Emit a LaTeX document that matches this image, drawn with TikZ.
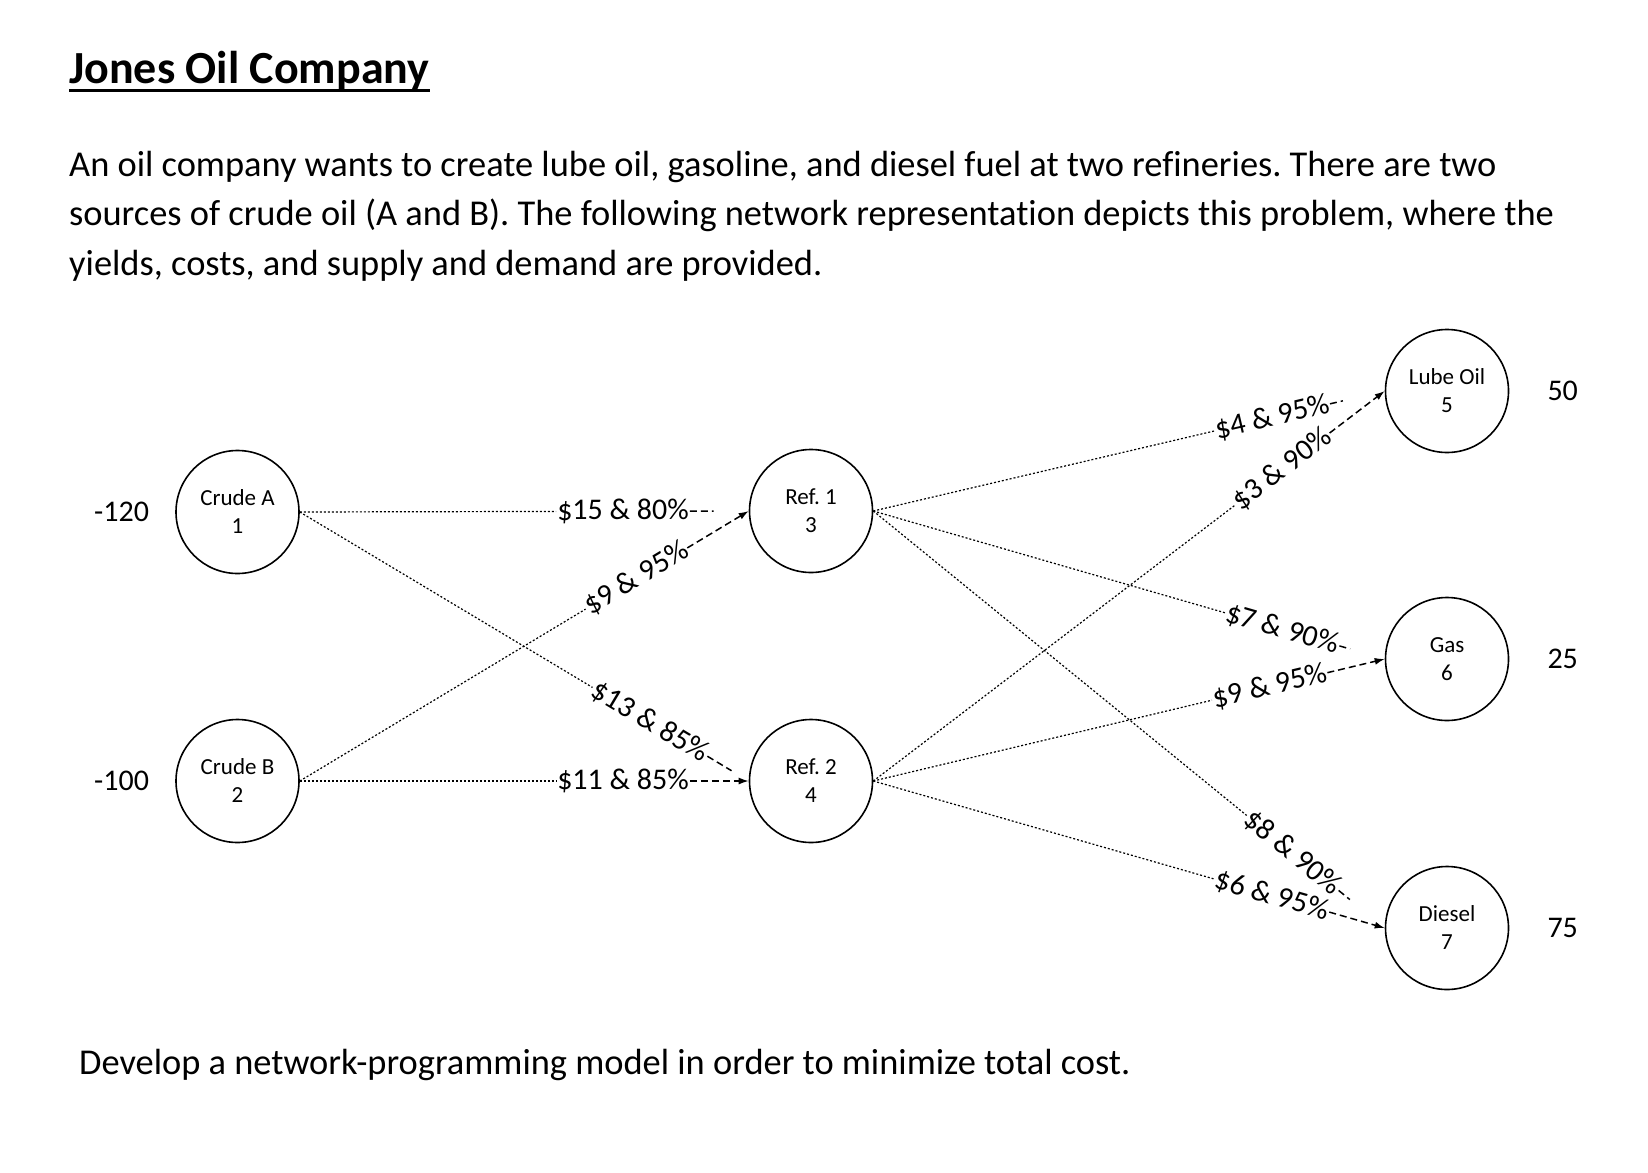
\documentclass[tikz,border=0pt]{standalone}
\usepackage{fontspec}
\setmainfont{Carlito}[Ligatures=NoCommon]
\frenchspacing
\usetikzlibrary{arrows.meta,positioning}

\begin{document}
\begin{tikzpicture}[x=1pt,y=-1pt,
        stage/.style={draw,circle,line width=1.6pt,minimum size=123pt,inner sep=0pt,align=center,font=\fontsize{23}{28}\selectfont},
        num/.style={inner sep=0pt,font=\fontsize{30}{36}\selectfont},
        txt/.style={anchor=base west,inner sep=0pt,font=\fontsize{36.4}{44}\selectfont},
        lbl/.style={sloped,inner sep=1pt,font=\fontsize{30}{36}\selectfont},
        dotline/.style={line width=1.2pt,dash pattern=on 2pt off 2pt},
        dashline/.style={line width=1.5pt,dash pattern=on 7pt off 4pt},
        arrowed/.style={-{Latex[length=10pt,width=7pt]}},
        stub/.style={shorten >=#1}]
        \useasboundingbox (0,0) rectangle (1648,1172);
        % text
        \node[txt,font=\fontsize{46}{54}\selectfont\bfseries] (title) at (69,83) {Jones Oil Company};
        \draw[line width=3pt] ([yshift=-7pt]title.base west) -- ([yshift=-7pt]title.base east);
        \node[txt] (p1) at (69,176) {An oil company wants to create lube oil, gasoline, and diesel fuel at two refineries. There are two};
        \node[txt] (p2) at (69,225) {sources of crude oil (A and B). The following network representation depicts this problem, where the};
        \node[txt] (p3) at (69,275) {yields, costs, and supply and demand are provided.};
        \node[txt] (task) at (79,1074) {Develop a network-programming model in order to minimize total cost.};
        % nodes
        \node[stage] (cA) at (237.5,512) {Crude A\\1};
        \node[stage] (cB) at (237.5,781) {Crude B\\2};
        \node[stage] (r1) at (811,511) {Ref. 1\\3};
        \node[stage] (r2) at (811,781) {Ref. 2\\4};
        \node[stage] (lube) at (1447,391) {Lube Oil\\5};
        \node[stage] (gas) at (1447,659) {Gas\\6};
        \node[stage] (dsl) at (1447,928) {Diesel\\7};
        \node[num,left=26pt of cA] (sA) {-120};
        \node[num,left=26pt of cB] (sB) {-100};
        \node[num,right=38pt of lube] (dL) {50};
        \node[num,right=38pt of gas] (dG) {25};
        \node[num,right=38pt of dsl] (dD) {75};
        % crude -> refinery
        \path (cA.east) -- node[lbl,pos=.72] (l13) {\$15 \& 80\%} (r1.west);
        \draw[dotline] (cA.east) -- (l13);
        \draw[dashline,stub=35pt] (l13) -- (r1.west);
        \path (cB.east) -- node[lbl,pos=.75] (l23) {\$9 \& 95\%} (r1.west);
        \draw[dotline] (cB.east) -- (l23);
        \draw[dashline,arrowed] (l23) -- (r1.west);
        \path (cA.east) -- node[lbl,pos=.78] (l14) {\$13 \& 85\%} (r2.west);
        \draw[dotline] (cA.east) -- (l14);
        \draw[dashline,stub=20pt] (l14) -- (r2.west);
        \path (cB.east) -- node[lbl,pos=.72] (l24) {\$11 \& 85\%} (r2.west);
        \draw[dotline] (cB.east) -- (l24);
        \draw[dashline,arrowed] (l24) -- (r2.west);
        % refinery -> product
        \path (r1.east) -- node[lbl,pos=.78] (l35) {\$4 \& 95\%} (lube.west);
        \draw[dotline] (r1.east) -- (l35);
        \draw[dashline,stub=43pt] (l35) -- (lube.west);
        \path (r2.east) -- node[lbl,pos=.80] (l45) {\$3 \& 90\%} (lube.west);
        \draw[dotline] (r2.east) -- (l45);
        \draw[dashline,arrowed] (l45) -- (lube.west);
        \path (r1.east) -- node[lbl,pos=.80] (l36) {\$7 \& 90\%} (gas.west);
        \draw[dotline] (r1.east) -- (l36);
        \draw[dashline,stub=36pt] (l36) -- (gas.west);
        \path (r2.east) -- node[lbl,pos=.775] (l46) {\$9 \& 95\%} (gas.west);
        \draw[dotline] (r2.east) -- (l46);
        \draw[dashline,arrowed] (l46) -- (gas.west);
        \path (r1.east) -- node[lbl,pos=.82] (l37) {\$8 \& 90\%} (dsl.west);
        \draw[dotline] (r1.east) -- (l37);
        \draw[dashline,stub=45pt] (l37) -- (dsl.west);
        \path (r2.east) -- node[lbl,pos=.78] (l47) {\$6 \& 95\%} (dsl.west);
        \draw[dotline] (r2.east) -- (l47);
        \draw[dashline,arrowed] (l47) -- (dsl.west);
\end{tikzpicture}
\end{document}
